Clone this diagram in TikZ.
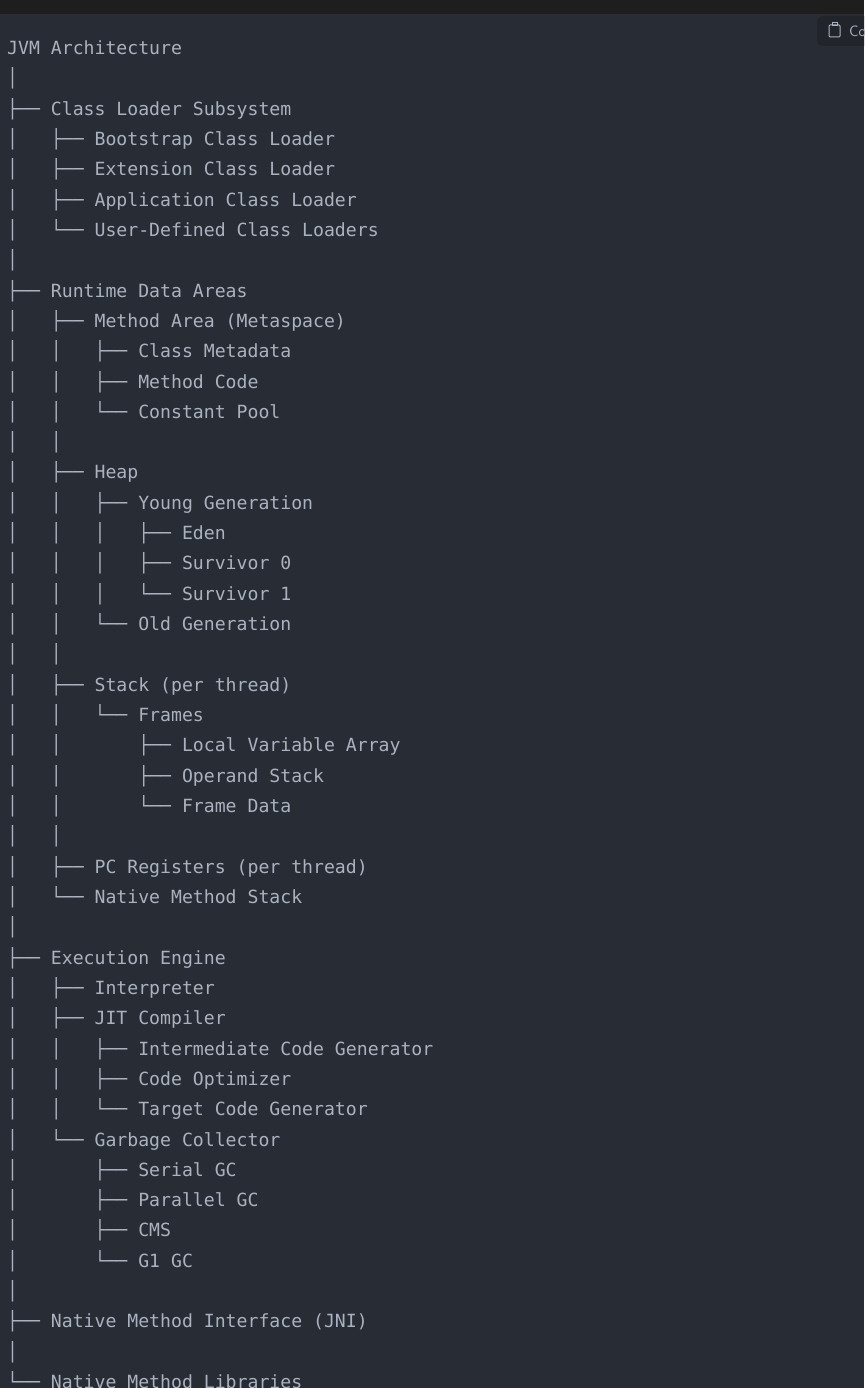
\documentclass[tikz,border=0pt]{standalone}
\usepackage{fontspec}
\setmonofont{DejaVu Sans Mono}
\begin{document}
\begin{tikzpicture}[x=1pt,y=1pt,
  line/.style={anchor=base west,inner sep=0pt,text=txt,font=\ttfamily\fontsize{18.15}{18}\selectfont}]
\definecolor{bg}{HTML}{282C34}
\definecolor{bar}{HTML}{1E1E1E}
\definecolor{txt}{HTML}{ABB2BF}
\definecolor{btn}{HTML}{21252B}
\useasboundingbox (0,0) rectangle (864,-1388);
\fill[bg] (0,0) rectangle (864,-1388);
\fill[bar] (0,0) rectangle (864,-14);
\begin{scope}
\clip (0,0) rectangle (864,-1388);
\fill[btn,rounded corners=6] (817,-16) rectangle (900,-46);
\node[anchor=west,inner sep=0,text=txt,font=\sffamily\fontsize{15}{15}\selectfont] (copy) at (849,-31) {Co};
\draw[txt,line width=1pt,rounded corners=1] (829,-25) rectangle (840,-37);
\draw[txt,line width=1pt] (832,-23) rectangle (837,-26);
\end{scope}
\foreach \t [count=\i from 0] in {
JVM~Architecture,
│,
├──~Class~Loader~Subsystem,
│~~~├──~Bootstrap~Class~Loader,
│~~~├──~Extension~Class~Loader,
│~~~├──~Application~Class~Loader,
│~~~└──~User-Defined~Class~Loaders,
│,
├──~Runtime~Data~Areas,
│~~~├──~Method~Area~(Metaspace),
│~~~│~~~├──~Class~Metadata,
│~~~│~~~├──~Method~Code,
│~~~│~~~└──~Constant~Pool,
│~~~│,
│~~~├──~Heap,
│~~~│~~~├──~Young~Generation,
│~~~│~~~│~~~├──~Eden,
│~~~│~~~│~~~├──~Survivor~0,
│~~~│~~~│~~~└──~Survivor~1,
│~~~│~~~└──~Old~Generation,
│~~~│,
│~~~├──~Stack~(per~thread),
│~~~│~~~└──~Frames,
│~~~│~~~~~~~├──~Local~Variable~Array,
│~~~│~~~~~~~├──~Operand~Stack,
│~~~│~~~~~~~└──~Frame~Data,
│~~~│,
│~~~├──~PC~Registers~(per~thread),
│~~~└──~Native~Method~Stack,
│,
├──~Execution~Engine,
│~~~├──~Interpreter,
│~~~├──~JIT~Compiler,
│~~~│~~~├──~Intermediate~Code~Generator,
│~~~│~~~├──~Code~Optimizer,
│~~~│~~~└──~Target~Code~Generator,
│~~~└──~Garbage~Collector,
│~~~~~~~├──~Serial~GC,
│~~~~~~~├──~Parallel~GC,
│~~~~~~~├──~CMS,
│~~~~~~~└──~G1~GC,
│,
├──~Native~Method~Interface~(JNI),
│,
└──~Native~Method~Libraries}
  \node[line] (l\i) at (7,{-54.5-30.32*\i}) {\t};
\end{tikzpicture}
\end{document}
